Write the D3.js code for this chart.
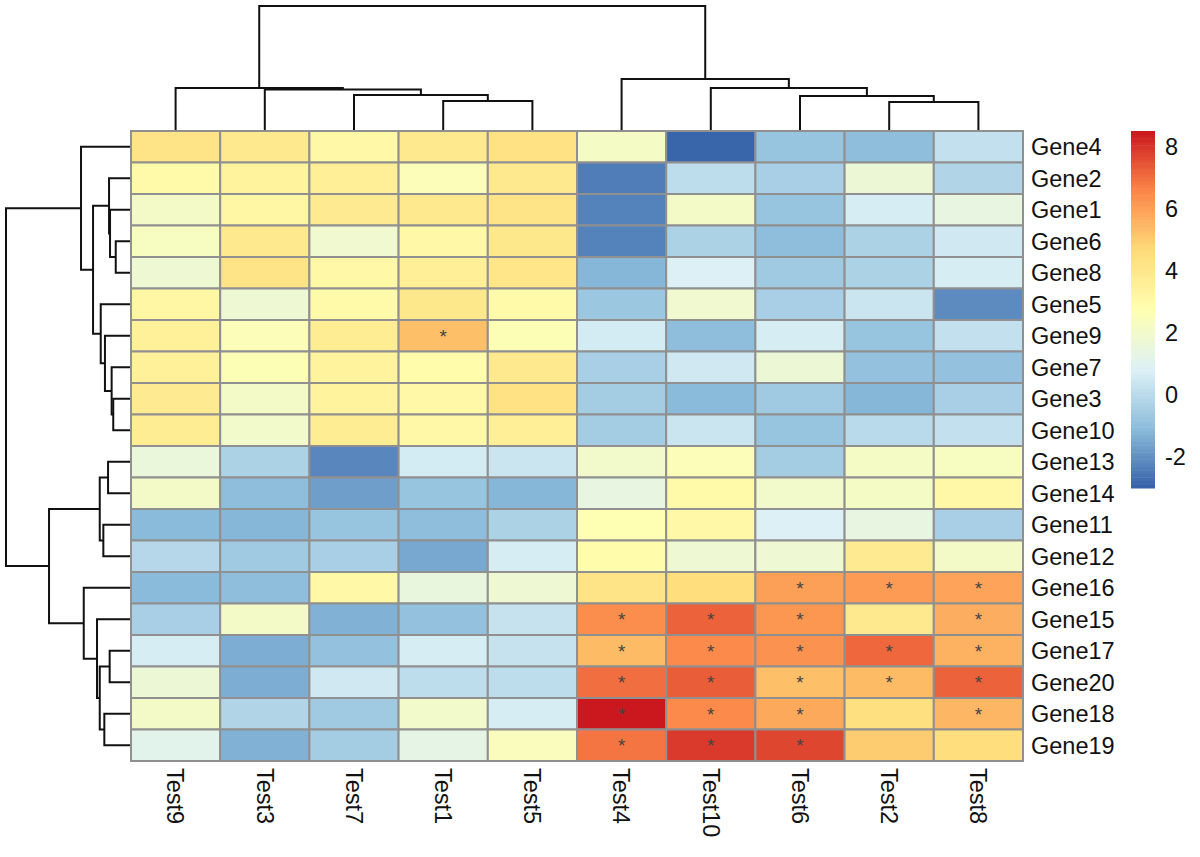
<!DOCTYPE html>
<html>
<head>
<meta charset="utf-8">
<script src="https://cdn.jsdelivr.net/npm/d3@7"></script>
<style>
  html, body { margin: 0; padding: 0; background: #fff; }
  svg { display: block; }
  text { font-family: "Liberation Sans", Arial, sans-serif; fill: #111; }
</style>
</head>
<body>
<svg id="heatmap" width="1200" height="857"></svg>
<script>
const tests = ["Test9", "Test3", "Test7", "Test1", "Test5", "Test4", "Test10", "Test6", "Test2", "Test8"];
const genes = ["Gene4", "Gene2", "Gene1", "Gene6", "Gene8", "Gene5", "Gene9", "Gene7", "Gene3", "Gene10",
    "Gene13", "Gene14", "Gene11", "Gene12", "Gene16", "Gene15", "Gene17", "Gene20", "Gene18", "Gene19"];

// one row per gene, same order as tests
const values = [
    [4.2, 3.9, 3.1, 3.9, 4.3, 2.2, -2.9, -0.8, -1.0, 0.2],
    [3.0, 3.4, 3.6, 2.5, 3.9, -2.4, 0.1, -0.4, 1.7, -0.2],
    [2.1, 3.2, 3.8, 3.9, 4.2, -2.3, 2.1, -0.8, 0.7, 1.4],
    [2.3, 3.9, 1.9, 3.1, 4.0, -2.3, -0.3, -1.0, -0.3, 0.5],
    [1.8, 4.2, 3.1, 3.6, 4.1, -1.2, 0.8, -0.6, -0.3, 0.7],
    [3.2, 1.8, 3.0, 4.0, 3.0, -0.7, 1.9, -0.4, 0.4, -2.1],
    [3.5, 2.5, 3.7, 5.3, 2.6, 0.6, -1.0, 0.7, -0.8, 0.2],
    [3.5, 2.6, 3.4, 2.9, 3.9, -0.4, 0.5, 1.7, -0.9, -0.9],
    [3.8, 2.1, 3.4, 3.1, 4.3, -0.5, -1.1, -0.6, -1.2, -0.4],
    [3.7, 2.0, 3.7, 3.1, 3.6, -0.5, 0.4, -0.8, 0.0, 0.2],
    [1.6, -0.3, -2.2, 0.6, 0.4, 2.0, 2.5, -0.5, 2.2, 2.3],
    [2.1, -1.0, -1.7, -0.8, -1.2, 1.4, 3.0, 2.0, 2.2, 3.1],
    [-1.1, -1.2, -0.8, -1.0, -0.3, 2.7, 3.1, 0.8, 1.4, -0.4],
    [-0.1, -0.6, -0.4, -1.5, 0.7, 2.9, 1.8, 1.8, 3.8, 2.1],
    [-1.1, -1.0, 3.1, 1.5, 1.8, 4.2, 4.5, 6.0, 6.1, 5.9],
    [-0.4, 2.1, -1.3, -0.9, 0.3, 6.4, 7.2, 6.2, 3.9, 5.7],
    [0.7, -1.4, -0.9, 0.7, 0.3, 5.4, 6.5, 6.3, 7.1, 5.6],
    [1.7, -1.4, 0.5, 0.1, 0.1, 7.0, 7.3, 5.3, 5.4, 7.2],
    [2.1, -0.2, -0.6, 2.0, 0.7, 8.5, 6.5, 5.8, 4.4, 5.5],
    [1.1, -1.3, -0.5, 1.3, 2.4, 6.9, 7.9, 7.7, 5.0, 4.5]
];

// cells flagged with a star
const starred = [
    ["Gene9", ["Test1"]],
    ["Gene16", ["Test6", "Test2", "Test8"]],
    ["Gene15", ["Test4", "Test10", "Test6", "Test8"]],
    ["Gene17", ["Test4", "Test10", "Test6", "Test2", "Test8"]],
    ["Gene20", ["Test4", "Test10", "Test6", "Test2", "Test8"]],
    ["Gene18", ["Test4", "Test10", "Test6", "Test8"]],
    ["Gene19", ["Test4", "Test10", "Test6"]]
];

// dendrograms: [merge height, left, right]
const colTree = [100,
    [33.9, "Test9", [32.7, "Test3", [28.2, "Test7", [23.4, "Test1", "Test5"]]]],
    [41.1, "Test4", [33.9, "Test10", [27.4, "Test6", [22.6, "Test2", "Test8"]]]]
];
const rowTree = [100,
    [39.5, "Gene4",
        [29.8,
            [16.9, "Gene2", [16.1, "Gene1", [11.5, "Gene6", "Gene8"]]],
            [23.6, "Gene5", [20.2, "Gene9", [14.8, "Gene7", [13.5, "Gene3", "Gene10"]]]]]],
    [65.3,
        [24.4, [17.7, "Gene13", "Gene14"], [21.5, "Gene11", "Gene12"]],
        [37.3, "Gene16", [26.6, "Gene15", [24.4, [16.4, "Gene17", "Gene20"], [20.7, "Gene18", "Gene19"]]]]]
];

const colorDomain = [-3, -1.08, 0.83, 2.75, 4.67, 6.58, 8.5];
const colorRange = ["#3560A8", "#8BBCDB", "#DDF1F6", "#FFFFB0", "#FEDB78", "#FC8649", "#CB181E"];
const legendTicks = [-2, 0, 2, 4, 6, 8];

const grid = { left: 131, right: 1023, top: 131, bottom: 761 };
const legend = { left: 1131, right: 1155, top: 131, bottom: 488 };

const svg = d3.select("#heatmap");
const x = d3.scaleBand().domain(tests).range([grid.left, grid.right]);
const y = d3.scaleBand().domain(genes).range([grid.top, grid.bottom]);
const color = d3.scaleLinear().domain(colorDomain).range(colorRange).interpolate(d3.interpolateRgb).clamp(true);

// heatmap cells
const cells = values.flatMap((row, i) => row.map((v, j) => ({ gene: genes[i], test: tests[j], v })));
svg.append("g").selectAll("rect")
    .data(cells)
    .join("rect")
    .attr("x", d => x(d.test))
    .attr("y", d => y(d.gene))
    .attr("width", x.bandwidth())
    .attr("height", y.bandwidth())
    .attr("fill", d => color(d.v))
    .attr("stroke", "#909090")
    .attr("stroke-width", 2);

// stars
const stars = starred.flatMap(([gene, list]) => list.map(test => ({ gene, test })));
svg.append("g").selectAll("text")
    .data(stars)
    .join("text")
    .attr("x", d => x(d.test) + x.bandwidth() / 2)
    .attr("y", d => y(d.gene) + y.bandwidth() / 2 + 7)
    .attr("text-anchor", "middle")
    .attr("font-size", "19px")
    .style("fill", "#444")
    .text("*");

// gene and test labels
const rowAxis = svg.append("g")
    .attr("transform", `translate(${grid.right},0)`)
    .call(d3.axisRight(y).tickSize(0).tickPadding(8));
rowAxis.select(".domain").remove();
rowAxis.selectAll("text").attr("font-size", "23.5px").attr("font-family", null).attr("dy", "0.36em");

const colAxis = svg.append("g")
    .attr("transform", `translate(0,${grid.bottom})`)
    .call(d3.axisBottom(x).tickSize(0));
colAxis.select(".domain").remove();
colAxis.selectAll("text")
    .attr("font-size", "23.5px")
    .attr("font-family", null)
    .attr("text-anchor", "start")
    .attr("dy", "0.35em")
    .attr("y", 0)
    .attr("transform", "translate(0,7) rotate(90)");

// dendrograms
const colHeight = d3.scaleLinear().domain([0, 100]).range([130, 6]);
const rowHeight = d3.scaleLinear().domain([0, 100]).range([130, 6]);

function centre(scale, name) {
    return scale(name) + scale.bandwidth() / 2;
}

// collect the three segments of every merge; returns [leaf position, height]
function walk(node, leafPos, out) {
    if (typeof node === "string") return [leafPos(node), 0];
    const [h, left, right] = node;
    const a = walk(left, leafPos, out);
    const b = walk(right, leafPos, out);
    out.push({ h, a, b });
    return [(a[0] + b[0]) / 2, h];
}

const colMerges = [];
walk(colTree, n => centre(x, n), colMerges);
svg.append("g").selectAll("path")
    .data(colMerges)
    .join("path")
    .attr("fill", "none")
    .attr("stroke", "#111")
    .attr("stroke-width", 2)
    .attr("d", d => {
        const p = d3.path();
        p.moveTo(d.a[0], colHeight(d.a[1]));
        p.lineTo(d.a[0], colHeight(d.h));
        p.lineTo(d.b[0], colHeight(d.h));
        p.lineTo(d.b[0], colHeight(d.b[1]));
        return p.toString();
    });

const rowMerges = [];
walk(rowTree, n => centre(y, n), rowMerges);
svg.append("g").selectAll("path")
    .data(rowMerges)
    .join("path")
    .attr("fill", "none")
    .attr("stroke", "#111")
    .attr("stroke-width", 2)
    .attr("d", d => {
        const p = d3.path();
        p.moveTo(rowHeight(d.a[1]), d.a[0]);
        p.lineTo(rowHeight(d.h), d.a[0]);
        p.lineTo(rowHeight(d.h), d.b[0]);
        p.lineTo(rowHeight(d.b[1]), d.b[0]);
        return p.toString();
    });

// colour legend
const legendY = d3.scaleLinear()
    .domain([colorDomain[0], colorDomain[colorDomain.length - 1]])
    .range([legend.bottom, legend.top]);
const steps = d3.range(100).map(i => legendY.domain()[0] + (i + 0.5) * (legendY.domain()[1] - legendY.domain()[0]) / 100);
const stepHeight = (legend.bottom - legend.top) / 100;
svg.append("g").selectAll("rect")
    .data(steps)
    .join("rect")
    .attr("x", legend.left)
    .attr("width", legend.right - legend.left)
    .attr("y", d => legendY(d) - stepHeight / 2)
    .attr("height", stepHeight + 0.5)
    .attr("fill", d => color(d));

const legendAxis = svg.append("g")
    .attr("transform", `translate(${legend.right},0)`)
    .call(d3.axisRight(legendY).tickValues(legendTicks).tickFormat(d => String(d)).tickSize(0).tickPadding(10));
legendAxis.select(".domain").remove();
legendAxis.selectAll("text").attr("font-size", "23.5px").attr("font-family", null);
</script>
</body>
</html>
